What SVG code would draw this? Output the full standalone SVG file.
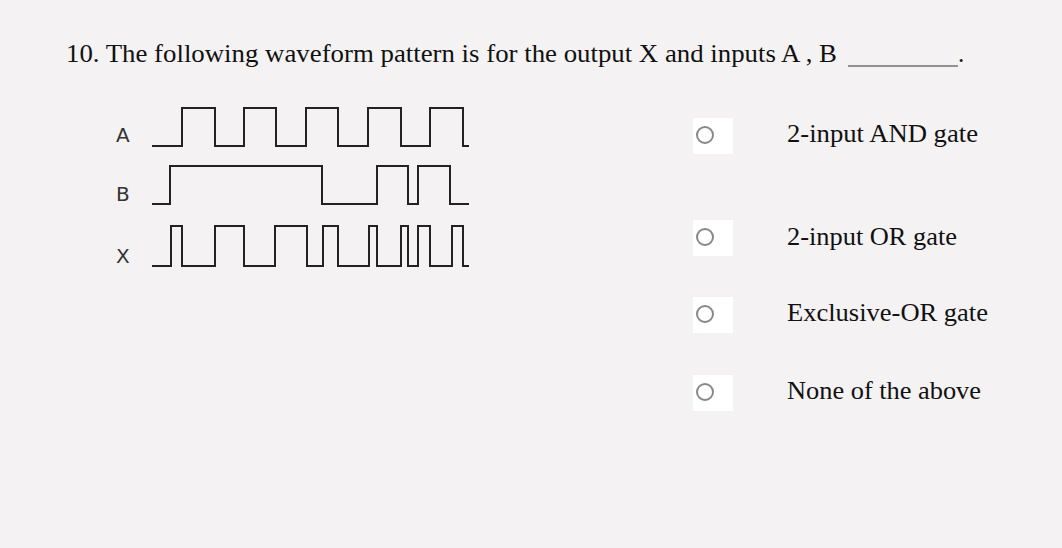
<svg xmlns="http://www.w3.org/2000/svg" width="1062" height="548" viewBox="0 0 1062 548">
<style>
.t{font-family:"Liberation Serif",serif;font-size:25px;fill:#111}
.l{font-family:"DejaVu Sans",sans-serif;font-size:20px;fill:#333}
.w{fill:none;stroke:#222;stroke-width:2}
.box{fill:#fff}
.r{fill:#fff;stroke:#888;stroke-width:2}
</style>
<rect width="1062" height="548" fill="#f4f2f3"/>
<text class="t" x="66" y="62" textLength="771" lengthAdjust="spacingAndGlyphs">10.  The following waveform pattern is for the output X and inputs A , B</text>
<line x1="848" y1="66" x2="958" y2="66" stroke="#333" stroke-width="1"/>
<text class="t" x="958" y="62">.</text>
<g id="waveforms">
<text class="l" x="116" y="142">A</text>
<text class="l" x="116" y="201">B</text>
<text class="l" x="116" y="263">X</text>
<path class="w" d="M152 146H182V108H215V146H244V108H276V146H306V108H338V146H368V108H401V146H430V108H463V146H469"/>
<path class="w" d="M152 204H170V166H322V204H377V166H408V204H418V166H450V204H469"/>
<path class="w" d="M152 266H171V226H182V266H215V226H244V266H275V226H307V266H323V226H338V266H369V226H377V266H401V226H408V266H418V226H430V266H452V226H463V266H469"/>
</g>
<g id="opt1"><rect class="box" x="693" y="118" width="40" height="36"/><circle class="r" cx="705" cy="135" r="8"/><text class="t" x="787" y="142" textLength="191" lengthAdjust="spacingAndGlyphs">2-input AND gate</text></g>
<g id="opt2"><rect class="box" x="693" y="220" width="40" height="36"/><circle class="r" cx="705" cy="237" r="8"/><text class="t" x="787" y="245" textLength="170" lengthAdjust="spacingAndGlyphs">2-input OR gate</text></g>
<g id="opt3"><rect class="box" x="693" y="297" width="40" height="36"/><circle class="r" cx="705" cy="314" r="8"/><text class="t" x="787" y="321" textLength="201" lengthAdjust="spacingAndGlyphs">Exclusive-OR gate</text></g>
<g id="opt4"><rect class="box" x="693" y="375" width="40" height="36"/><circle class="r" cx="705" cy="392" r="8"/><text class="t" x="787" y="399" textLength="194" lengthAdjust="spacingAndGlyphs">None of the above</text></g>
<g id="connectors"/>
</svg>
